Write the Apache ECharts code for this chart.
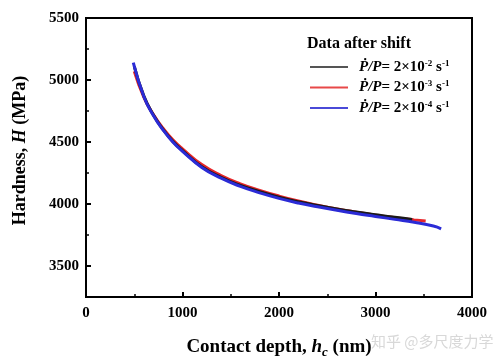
<!DOCTYPE html>
<html><head><meta charset="utf-8">
<script src="https://cdn.jsdelivr.net/npm/echarts@6/dist/echarts.min.js"></script>
<style>html,body{margin:0;padding:0;background:#fff}#c{width:504px;height:364px}</style>
</head><body><div id="c"></div>
<script>
// Data
var xTicks = [0, 1000, 2000, 3000, 4000];
var yTicks = [3500, 4000, 4500, 5000, 5500];
var yMinorTicks = [3750, 4250, 4750, 5250];
var seriesNames = ['2e-2', '2e-3', '2e-4'];
var legendExp = ['-2', '-3', '-4'];

var hcBlack = [500, 600, 700, 800, 900, 1000, 1200, 1400, 1600, 1800, 2000, 2200, 2400, 2600, 2800, 3000, 3200, 3380];
var hBlack  = [5110, 4870, 4715, 4600, 4505, 4430, 4300, 4215, 4150, 4100, 4055, 4018, 3988, 3960, 3936, 3914, 3893, 3876];

var hcRed = [500, 600, 700, 800, 900, 1000, 1200, 1400, 1600, 1800, 2000, 2200, 2400, 2600, 2800, 3000, 3200, 3400, 3520];
var hRed  = [5070, 4860, 4720, 4610, 4518, 4445, 4318, 4230, 4163, 4110, 4064, 4024, 3990, 3960, 3934, 3910, 3890, 3872, 3862];

var hcBlue = [490, 600, 700, 800, 900, 1000, 1200, 1400, 1600, 1800, 2000, 2200, 2400, 2600, 2800, 3000, 3200, 3400, 3600, 3680];
var hBlue  = [5140, 4865, 4712, 4596, 4500, 4425, 4295, 4208, 4142, 4090, 4045, 4008, 3978, 3950, 3924, 3900, 3876, 3852, 3822, 3800];

function pairs(xs, ys) { return xs.map(function (x, i) { return [x, ys[i]]; }); }

var chart = echarts.init(document.getElementById('c'), null, {renderer: 'canvas'});
var serif = 'Liberation Serif';
var colors = ['#1a1a1a', '#e8262a', '#2b2bd6'];
var legendColors = ['#555555', '#e84848', '#4a4ad8'];

var option = {
  animation: false,
  backgroundColor: '#fff',
  grid: {left: 86, right: 32, top: 18, bottom: 64, show: true, borderColor: '#000', borderWidth: 2},
  xAxis: {
    type: 'value', min: 0, max: 4000, interval: 1000,
    axisLine: {show: true, lineStyle: {color: '#000', width: 2}},
    axisTick: {show: true, inside: true, length: 5, lineStyle: {color: '#000', width: 2}},
    minorTick: {show: true, splitNumber: 2, length: 3, lineStyle: {color: '#000', width: 1.5}},
    splitLine: {show: false},
    axisLabel: {color: '#000', fontFamily: serif, fontWeight: 'bold', fontSize: 15, margin: 9,
                formatter: function (v) { return String(v); }},
    name: '{a|Contact depth, }{i|h}{s|c}{a| (nm)}',
    nameLocation: 'middle', nameGap: 39,
    nameTextStyle: {
      rich: {
        a: {fontFamily: serif, fontWeight: 'bold', fontSize: 19, color: '#000'},
        i: {fontFamily: serif, fontWeight: 'bold', fontStyle: 'italic', fontSize: 19, color: '#000'},
        s: {fontFamily: serif, fontWeight: 'bold', fontStyle: 'italic', fontSize: 13, color: '#000', verticalAlign: 'bottom', padding: [10, 0, 0, 0]}
      }
    }
  },
  yAxis: [{
    type: 'value', min: 3250, max: 5500,
    axisLine: {show: true, lineStyle: {color: '#000', width: 2}},
    axisTick: {show: true, inside: true, length: 5, customValues: yTicks, lineStyle: {color: '#000', width: 2}},
    axisLabel: {color: '#000', fontFamily: serif, fontWeight: 'bold', fontSize: 15, margin: 7, customValues: yTicks,
                formatter: function (v) { return String(v); }},
    splitLine: {show: false},
    name: '{a|Hardness, }{i|H}{a| (MPa)}',
    nameLocation: 'middle', nameGap: 57, nameRotate: 90,
    nameTextStyle: {
      padding: [0, 0, 0, 14],
      rich: {
        a: {fontFamily: serif, fontWeight: 'bold', fontSize: 18, color: '#000'},
        i: {fontFamily: serif, fontWeight: 'bold', fontStyle: 'italic', fontSize: 18, color: '#000'}
      }
    }
  }, {
    type: 'value', min: 3250, max: 5500, position: 'left',
    axisLine: {show: false},
    axisTick: {show: true, inside: true, length: 3, customValues: yMinorTicks, lineStyle: {color: '#000', width: 1.5}},
    axisLabel: {show: false},
    splitLine: {show: false}
  }],
  legend: {
    orient: 'vertical', left: 305, top: 54, itemWidth: 38, itemHeight: 2, itemGap: 5,
    icon: 'rect',
    data: seriesNames.map(function (n, i) { return {name: n, itemStyle: {color: legendColors[i]}}; }),
    formatter: function (name) {
      var i = seriesNames.indexOf(name);
      return '{p|\u1E56/P}{a|= 2\u00D710}{u|' + legendExp[i] + '}{a| s}{u|-1}';
    },
    textStyle: {
      padding: [0, 0, 0, 6],
      rich: {
        p: {fontFamily: serif, fontWeight: 'bold', fontStyle: 'italic', fontSize: 15, color: '#000'},
        a: {fontFamily: serif, fontWeight: 'bold', fontSize: 15, color: '#000'},
        u: {fontFamily: serif, fontWeight: 'bold', fontSize: 9, color: '#000', verticalAlign: 'top', padding: [0, 0, 7, 0]}
      }
    }
  },
  graphic: [
    {type: 'text', left: 307, top: 36, style: {text: 'Data after shift', font: 'bold 16px "Liberation Serif"', fill: '#000'}},
    {type: 'text', left: 371, top: 334, style: {text: '知乎 @多尺度力学', font: '15px "Noto Sans CJK SC"', fill: '#d8d8d8'}}
  ],
  series: [
    {name: seriesNames[0], type: 'line', data: pairs(hcBlack, hBlack), showSymbol: false, smooth: true, z: 3,
     lineStyle: {color: colors[0], width: 3}, itemStyle: {color: colors[0]}},
    {name: seriesNames[1], type: 'line', data: pairs(hcRed, hRed), showSymbol: false, smooth: true, z: 2,
     lineStyle: {color: colors[1], width: 3}, itemStyle: {color: colors[1]}},
    {name: seriesNames[2], type: 'line', data: pairs(hcBlue, hBlue), showSymbol: false, smooth: true, z: 4,
     lineStyle: {color: colors[2], width: 3}, itemStyle: {color: colors[2]}}
  ]
};
chart.setOption(option);
</script>
</body></html>
